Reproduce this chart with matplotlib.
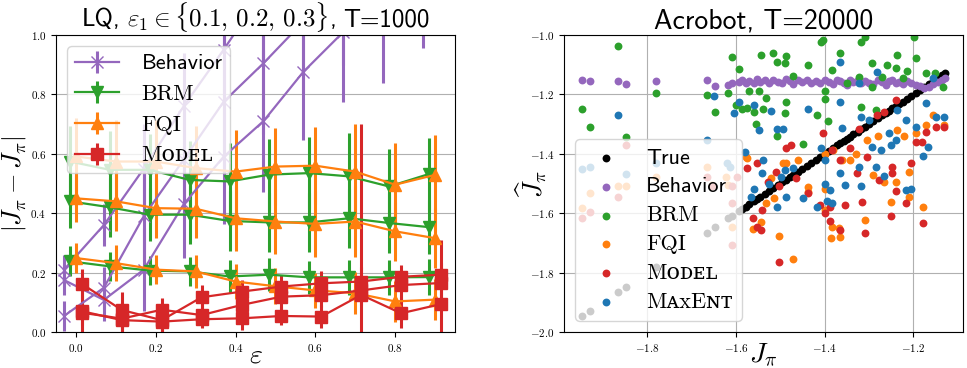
import matplotlib
matplotlib.use('Agg')
import matplotlib.pyplot as plt

plt.rcParams['mathtext.fontset'] = 'cm'
plt.rcParams['font.family'] = ['cmss10', 'DejaVu Sans']
plt.rcParams['axes.formatter.use_mathtext'] = True

# ---------------- left panel data (LQ) ----------------
eps = [0.0, 0.1, 0.2, 0.3, 0.4, 0.5, 0.6, 0.7, 0.8, 0.9]

behavior_mean = [
    [0.21, 0.36, 0.55, 0.76, 0.95, 1.15, 1.35, 1.55, 1.75, 1.95],
    [0.175, 0.108, 0.21, 0.43, 0.59, 0.71, 0.876, 1.01, 1.14, 1.27],
    [0.054, 0.149, 0.39, 0.58, 0.775, 0.905, 1.045, 1.18, 1.32, 1.45],
]
behavior_err = [
    [0.05, 0.07, 0.15, 0.18, 0.22, 0.24, 0.24, 0.28, 0.30, 0.31],
    [0.05, 0.07, 0.14, 0.18, 0.227, 0.24, 0.23, 0.235, 0.30, 0.315],
    [0.05, 0.07, 0.15, 0.18, 0.22, 0.24, 0.24, 0.28, 0.30, 0.31],
]
brm_mean = [
    [0.574, 0.546, 0.546, 0.512, 0.507, 0.53, 0.535, 0.524, 0.49, 0.532],
    [0.44, 0.42, 0.395, 0.395, 0.374, 0.369, 0.369, 0.383, 0.367, 0.353],
    [0.238, 0.221, 0.207, 0.204, 0.187, 0.193, 0.184, 0.184, 0.184, 0.185],
]
brm_err = [
    [0.12, 0.13, 0.12, 0.13, 0.13, 0.12, 0.12, 0.145, 0.125, 0.12],
    [0.09, 0.1, 0.09, 0.1, 0.1, 0.1, 0.1, 0.1, 0.1, 0.09],
    [0.05, 0.05, 0.05, 0.05, 0.055, 0.055, 0.055, 0.06, 0.06, 0.06],
]
fqi_mean = [
    [0.591, 0.574, 0.574, 0.552, 0.54, 0.557, 0.56, 0.54, 0.496, 0.529],
    [0.45, 0.44, 0.417, 0.415, 0.383, 0.372, 0.364, 0.372, 0.339, 0.316],
    [0.249, 0.232, 0.21, 0.204, 0.17, 0.154, 0.14, 0.131, 0.103, 0.109],
]
fqi_err = [
    [0.13, 0.14, 0.14, 0.14, 0.14, 0.13, 0.13, 0.16, 0.14, 0.135],
    [0.08, 0.1, 0.1, 0.1, 0.11, 0.11, 0.11, 0.12, 0.1, 0.1],
    [0.05, 0.06, 0.05, 0.055, 0.06, 0.06, 0.06, 0.07, 0.07, 0.07],
]
model_mean = [
    [0.162, 0.074, 0.04, 0.117, 0.136, 0.153, 0.164, 0.17, 0.186, 0.193],
    [0.065, 0.045, 0.075, 0.057, 0.091, 0.119, 0.124, 0.14, 0.158, 0.165],
    [0.07, 0.04, 0.035, 0.043, 0.046, 0.054, 0.052, 0.125, 0.063, 0.094],
]
model_err = [
    [0.05, 0.06, 0.05, 0.04, 0.04, 0.04, 0.04, 0.05, 0.04, 0.04],
    [0.04, 0.04, 0.04, 0.04, 0.04, 0.04, 0.04, 0.05, 0.05, 0.05],
    [0.08, 0.06, 0.05, 0.03, 0.04, 0.03, 0.04, 0.575, 0.05, 0.215],
]

# ---------------- right panel data (Acrobot) ----------------
true_x = [-1.946, -1.929, -1.866, -1.847, -1.78, -1.665, -1.647, -1.617, -1.608, -1.593,
          -1.585, -1.578, -1.570, -1.560, -1.552, -1.545, -1.535, -1.525, -1.515, -1.505,
          -1.495, -1.487, -1.478, -1.470, -1.460, -1.450, -1.440, -1.430, -1.420, -1.410,
          -1.399, -1.390, -1.380, -1.372, -1.365, -1.356, -1.350, -1.342, -1.335, -1.325,
          -1.318, -1.310, -1.300, -1.290, -1.280, -1.270, -1.262, -1.255, -1.247, -1.240,
          -1.232, -1.224, -1.215, -1.205, -1.195, -1.185, -1.175, -1.165, -1.155, -1.145,
          -1.135, -1.129]
behavior_y = [-1.152, -1.154, -1.154, -1.166, -1.154, -1.152, -1.172, -1.168, -1.160, -1.158,
              -1.150, -1.162, -1.155, -1.160, -1.148, -1.158, -1.152, -1.163, -1.150, -1.157,
              -1.160, -1.148, -1.155, -1.165, -1.152, -1.158, -1.150, -1.160, -1.155, -1.162,
              -1.152, -1.158, -1.165, -1.150, -1.155, -1.160, -1.168, -1.152, -1.158, -1.150,
              -1.162, -1.155, -1.160, -1.165, -1.152, -1.158, -1.168, -1.155, -1.150, -1.162,
              -1.158, -1.165, -1.155, -1.160, -1.168, -1.172, -1.178, -1.175, -1.165, -1.158,
              -1.150, -1.146]

brm_x = [-1.946, -1.929, -1.866, -1.847, -1.78, -1.665, -1.647, -1.617, -1.608, -1.600,
         -1.593, -1.585, -1.574, -1.570, -1.559, -1.555, -1.543, -1.547, -1.532, -1.538,
         -1.517, -1.508, -1.490, -1.487, -1.471, -1.487, -1.488, -1.508, -1.448, -1.437,
         -1.418, -1.407, -1.403, -1.400, -1.398, -1.393, -1.384, -1.365, -1.323, -1.319,
         -1.319, -1.308, -1.293, -1.293, -1.285, -1.259, -1.240, -1.236, -1.224, -1.199,
         -1.198, -1.193, -1.171, -1.152, -1.133, -1.350, -1.270, -1.215]
brm_y = [-1.249, -1.309, -1.037, -1.342, -1.196, -1.202, -1.258, -1.196, -1.073, -1.236,
         -1.115, -1.250, -1.247, -1.190, -1.258, -1.298, -1.067, -1.190, -1.213, -1.250,
         -1.062, -1.090, -1.095, -1.070, -1.138, -1.224, -1.262, -1.340, -1.367, -1.101,
         -1.270, -1.022, -1.017, -1.190, -1.215, -1.290, -1.118, -1.062, -1.140, -1.022,
         -1.241, -1.006, -1.093, -1.174, -1.253, -1.101, -1.112, -1.067, -1.146, -0.995,
         -1.006, -1.079, -1.129, -1.129, -1.174, -1.160, -1.140, -1.120]

fqi_x = [-1.946, -1.929, -1.866, -1.847, -1.78, -1.665, -1.654, -1.623, -1.617, -1.608,
         -1.578, -1.574, -1.562, -1.543, -1.532, -1.513, -1.503, -1.494, -1.487, -1.470,
         -1.438, -1.437, -1.400, -1.400, -1.399, -1.386, -1.384, -1.381, -1.367, -1.365,
         -1.361, -1.342, -1.330, -1.308, -1.304, -1.280, -1.266, -1.251, -1.240, -1.236,
         -1.220, -1.209, -1.209, -1.194, -1.179, -1.171, -1.132, -1.520, -1.460, -1.290,
         -1.155]
fqi_y = [-1.584, -1.531, -1.507, -1.508, -1.477, -1.443, -1.505, -1.477, -1.505, -1.645,
         -1.410, -1.415, -1.653, -1.629, -1.567, -1.550, -1.676, -1.431, -1.432, -1.753,
         -1.527, -1.511, -1.520, -1.589, -1.400, -1.683, -1.648, -1.387, -1.650, -1.681,
         -1.420, -1.421, -1.400, -1.623, -1.354, -1.340, -1.494, -1.561, -1.494, -1.320,
         -1.340, -1.460, -1.544, -1.331, -1.580, -1.303, -1.303, -1.480, -1.420, -1.470,
         -1.270]

model_x = [-1.946, -1.929, -1.866, -1.847, -1.665, -1.654, -1.608, -1.608, -1.608, -1.597,
           -1.574, -1.562, -1.551, -1.551, -1.543, -1.540, -1.528, -1.509, -1.503, -1.502,
           -1.487, -1.475, -1.464, -1.437, -1.410, -1.403, -1.400, -1.388, -1.387, -1.384,
           -1.365, -1.365, -1.353, -1.342, -1.327, -1.323, -1.316, -1.308, -1.304, -1.281,
           -1.277, -1.266, -1.251, -1.247, -1.247, -1.240, -1.240, -1.217, -1.205, -1.194,
           -1.180, -1.179, -1.171, -1.148, -1.132]
model_y = [-1.615, -1.595, -1.544, -1.370, -1.477, -1.510, -1.510, -1.567, -1.707, -1.477,
           -1.449, -1.617, -1.432, -1.645, -1.657, -1.589, -1.494, -1.460, -1.763, -1.510,
           -1.382, -1.370, -1.483, -1.533, -1.573, -1.330, -1.600, -1.578, -1.625, -1.387,
           -1.421, -1.656, -1.572, -1.382, -1.466, -1.318, -1.561, -1.666, -1.410, -1.270,
           -1.488, -1.258, -1.608, -1.443, -1.466, -1.219, -1.524, -1.565, -1.430, -1.359,
           -1.360, -1.634, -1.325, -1.309, -1.309]

maxent_x = [-1.946, -1.929, -1.866, -1.847, -1.78, -1.665, -1.648, -1.620, -1.612, -1.604,
            -1.593, -1.579, -1.566, -1.559, -1.559, -1.547, -1.540, -1.538, -1.524, -1.520,
            -1.508, -1.508, -1.498, -1.494, -1.488, -1.487, -1.471, -1.448, -1.437, -1.418,
            -1.407, -1.400, -1.400, -1.395, -1.388, -1.384, -1.365, -1.365, -1.365, -1.361,
            -1.353, -1.323, -1.323, -1.319, -1.317, -1.300, -1.293, -1.285, -1.281, -1.274,
            -1.266, -1.255, -1.251, -1.240, -1.236, -1.217, -1.217, -1.206, -1.194, -1.179,
            -1.171, -1.167, -1.156, -1.148, -1.132]
maxent_y = [-1.452, -1.443, -1.269, -1.469, -1.430, -1.353, -1.205, -1.432, -1.443, -1.262,
            -1.224, -1.394, -1.545, -1.236, -1.520, -1.320, -1.463, -1.421, -1.502, -1.255,
            -1.318, -1.578, -1.477, -1.316, -1.455, -1.544, -1.449, -1.550, -1.249, -1.578,
            -1.382, -1.420, -1.500, -1.560, -1.522, -1.567, -1.090, -1.224, -1.463, -1.314,
            -1.505, -1.163, -1.443, -1.275, -1.510, -1.286, -1.376, -1.443, -1.124, -1.387,
            -1.474, -1.331, -1.370, -1.354, -1.253, -1.286, -1.522, -1.520, -1.310, -1.407,
            -1.230, -1.376, -1.146, -1.277, -1.277]

fig = plt.figure(figsize=(9.67, 3.68), dpi=100)
ax1 = fig.add_axes([0.0579, 0.0978, 0.4126, 0.8071])
ax2 = fig.add_axes([0.5832, 0.0978, 0.4127, 0.8071])

# ---- left: error-bar curves, one per eps_1, slightly shifted per method
methods = [
    ('Behavior', behavior_mean, behavior_err, 'C4', 'x', 9, -0.03),
    ('BRM', brm_mean, brm_err, 'C2', 'v', 8, -0.015),
    ('FQI', fqi_mean, fqi_err, 'C1', '^', 8, 0.0),
    ('Model', model_mean, model_err, 'C3', 's', 8.5, 0.015),
]
handles = []
for name, means, errs, col, mk, ms, shift in methods:
    xs = [e + shift for e in eps]
    for i in range(3):
        h = ax1.errorbar(xs, means[i], yerr=errs[i], color=col, marker=mk, ms=ms,
                         lw=1.6, elinewidth=2.2, capsize=0)
        if i == 0:
            handles.append(h)

ax1.set_xlim(-0.05, 0.95)
ax1.set_ylim(0, 1)
ax1.set_xticks([0.0, 0.2, 0.4, 0.6, 0.8])
ax1.set_yticks([0.0, 0.2, 0.4, 0.6, 0.8, 1.0])
ax1.grid(axis='y', color='#b0b0b0', lw=0.8)
ax1.set_xlabel(r'$\varepsilon$', fontsize=20, labelpad=-8)
ax1.set_ylabel(r'$\left|J_\pi - J_\pi\right|$', fontsize=19, labelpad=2)
leg1 = ax1.legend(handles, ['Behavior', 'BRM', 'FQI', 'M\u1d0f\u1d05\u1d07\u029f'],
                  loc='upper left', fontsize=16, handlelength=2.0, handletextpad=1.0,
                  labelspacing=0.5, borderpad=0.35)

# left title: sans text with cm math in between
pieces = [('LQ,', 18), (r'$\varepsilon_1 \in \{0.1,\,0.2,\,0.3\}$,', 18), ('T=1000', 18)]
renderer = fig.canvas.get_renderer()
ttl = [ax1.text(0, 1.03, s, fontsize=fs, transform=ax1.transAxes, va='baseline')
       for s, fs in pieces]
gap = 7
widths = [t.get_window_extent(renderer).width for t in ttl]
axw = ax1.get_window_extent(renderer).width
total = sum(widths) + gap * (len(widths) - 1)
pos = (axw - total) / 2
for t, w in zip(ttl, widths):
    t.set_x(pos / axw)
    pos += w + gap

# ---- right: scatter of estimates vs true value
ax2.scatter(true_x, true_x, s=32, color='k', lw=0, label='True')
ax2.scatter(true_x, behavior_y, s=32, color='C4', lw=0, label='Behavior')
ax2.scatter(brm_x, brm_y, s=32, color='C2', lw=0, label='BRM')
ax2.scatter(fqi_x, fqi_y, s=32, color='C1', lw=0, label='FQI')
ax2.scatter(model_x, model_y, s=32, color='C3', lw=0, label='M\u1d0f\u1d05\u1d07\u029f')
ax2.scatter(maxent_x, maxent_y, s=32, color='C0', lw=0, label='M\u1d00xE\u0274\u1d1b')
ax2.set_ylim(-2.0, -1.0)
ax2.set_xticks([-1.8, -1.6, -1.4, -1.2])
ax2.set_yticks([-2.0, -1.8, -1.6, -1.4, -1.2, -1.0])
ax2.grid(color='#b0b0b0', lw=0.8)
ax2.set_axisbelow(True)
ax2.set_title('Acrobot, T=20000', fontsize=20, pad=5)
ax2.set_xlabel(r'$J_\pi$', fontsize=20, labelpad=-9)
ax2.set_ylabel(r'$\widehat{J}_\pi$', fontsize=19, labelpad=-14)
leg2 = ax2.legend(loc='lower left', fontsize=16, labelspacing=0.42)

serif = ['cmr10', 'DejaVu Serif']
for leg, idx in ((leg1, [1, 2, 3]), (leg2, [2, 3, 4, 5])):
    texts = leg.get_texts()
    for i in idx:
        texts[i].set_fontfamily(serif)

for ax in (ax1, ax2):
    for lab in ax.get_xticklabels() + ax.get_yticklabels():
        lab.set_fontfamily('cmr10')
        lab.set_fontsize(8)

fig.savefig('out.png', dpi=100)
